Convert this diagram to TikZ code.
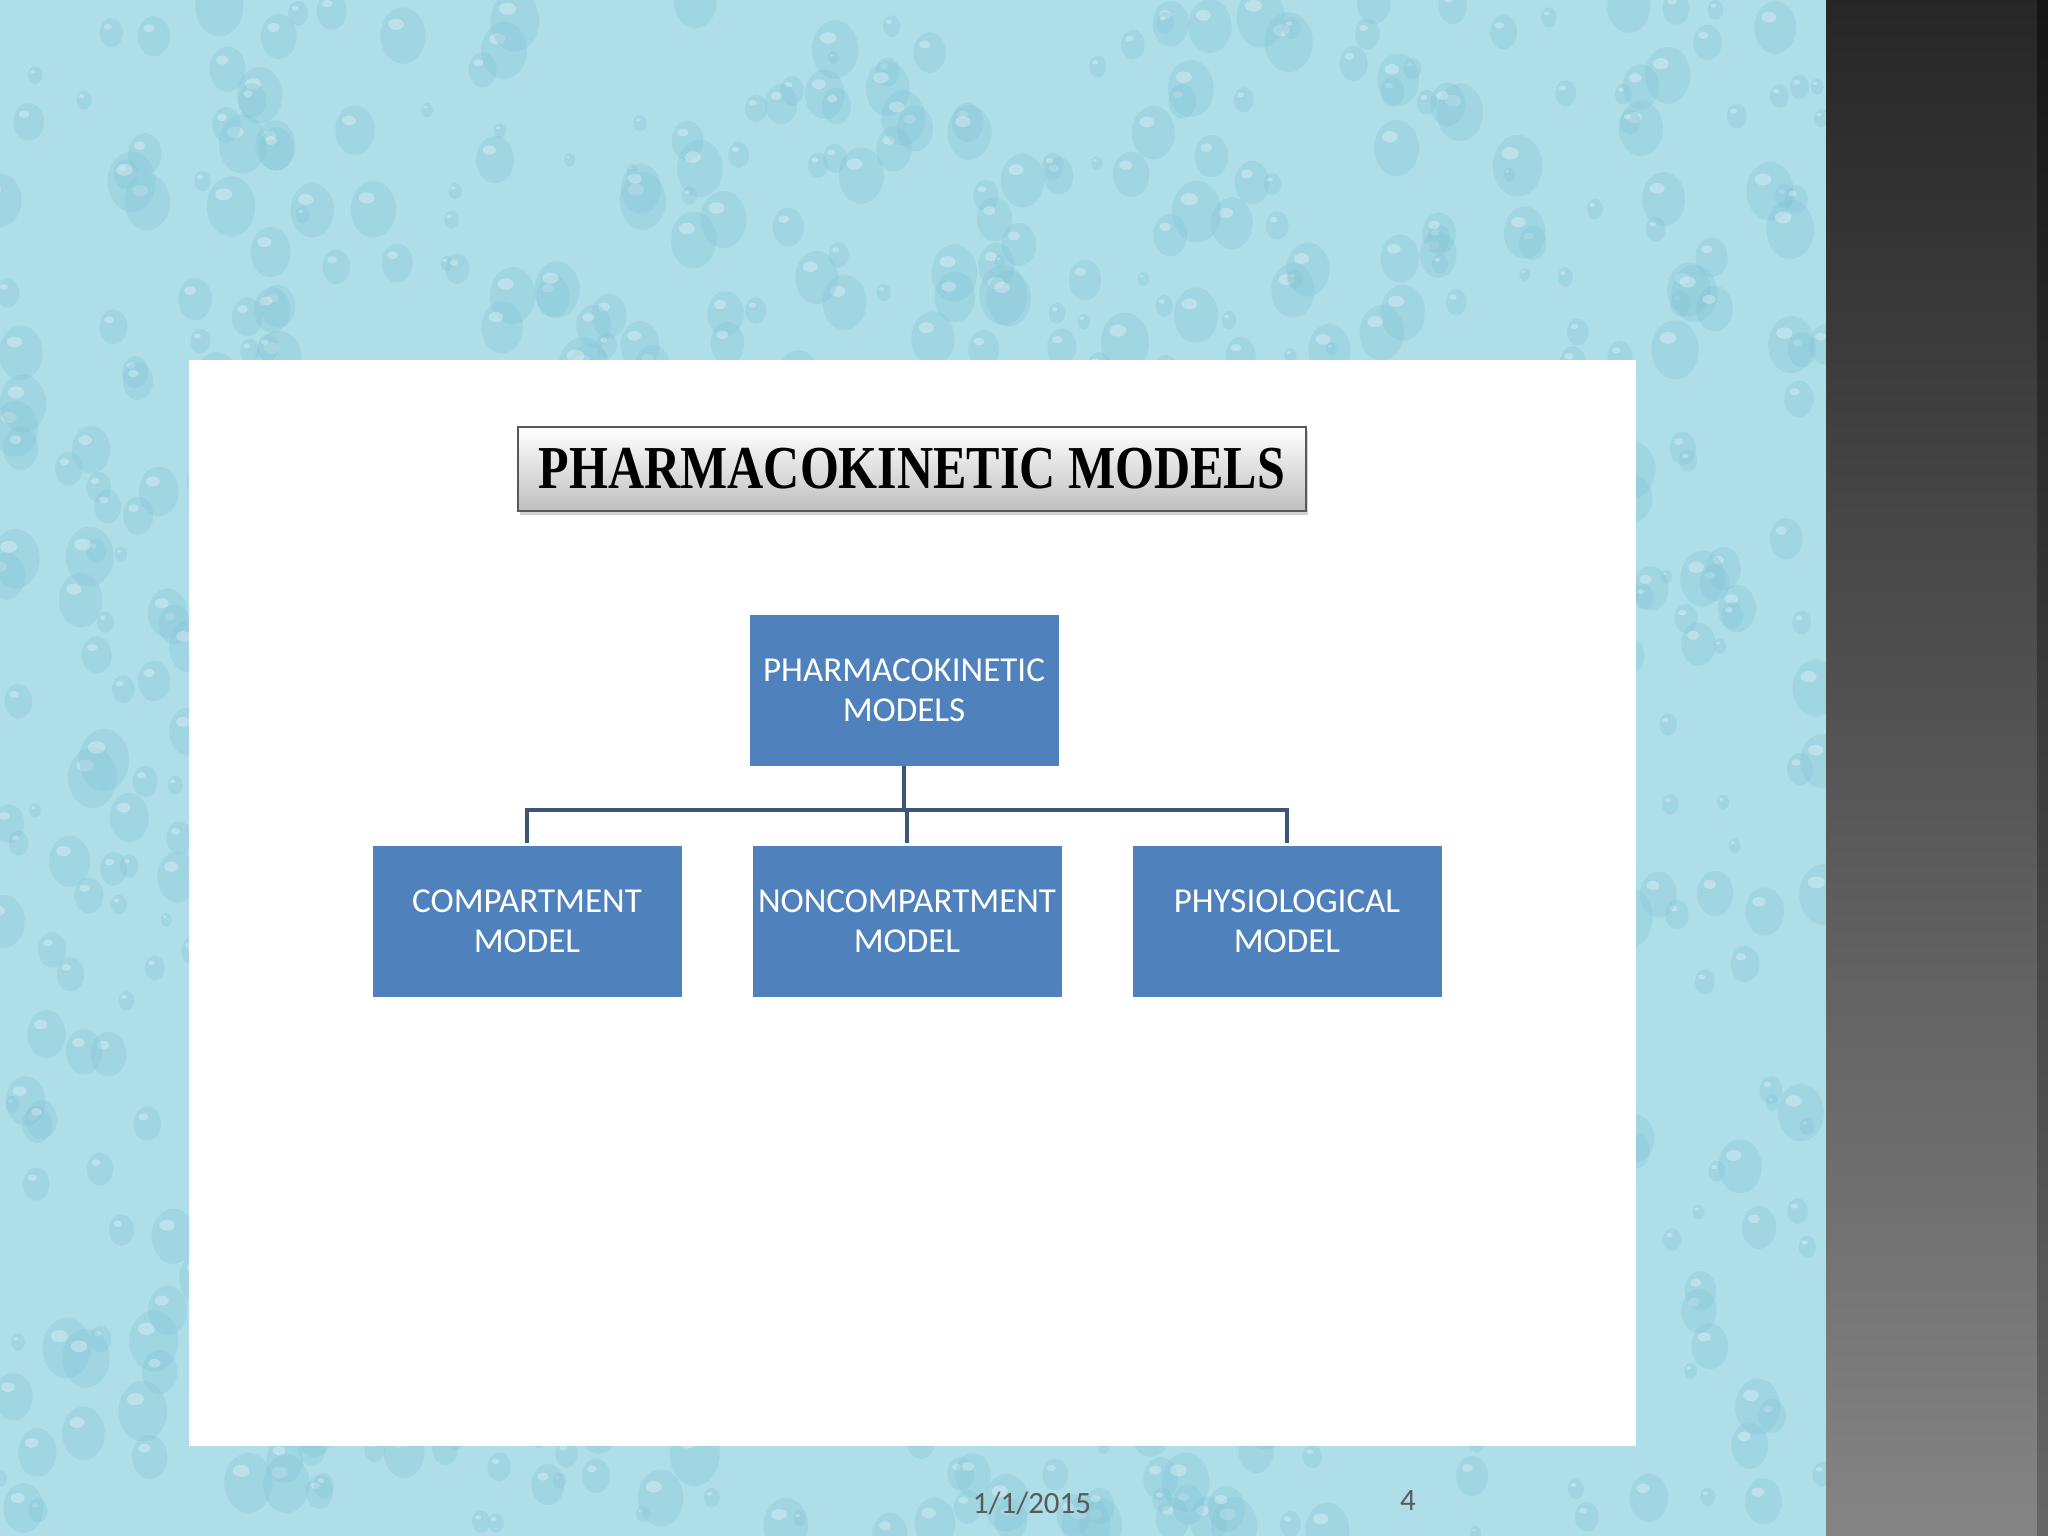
\documentclass[tikz,border=0pt]{standalone}
\usepackage{fontspec}
\setmainfont{Carlito}
\newfontfamily\titlefont[FakeStretch=0.82]{Liberation Serif}
\usepackage{xcolor}
\usetikzlibrary{positioning,shadows}

\definecolor{drops}{HTML}{AEDFE9}
\definecolor{dropsdark}{HTML}{86C4D6}
\definecolor{pkblue}{HTML}{4F81BD}
\definecolor{pkline}{HTML}{3E5675}
\definecolor{datetext}{HTML}{5A5A5A}

\begin{document}
\begin{tikzpicture}[x=1pt, y=-1pt,
  model/.style={fill=pkblue, text=white, align=center, inner sep=0pt,
    minimum width=309pt, minimum height=151pt, font=\fontsize{35}{40}\selectfont},
  headbox/.style={draw=black!65, line width=2pt, top color=white, bottom color=black!25,
    minimum width=788pt, minimum height=84pt, inner sep=0pt,
    drop shadow={shadow xshift=2pt, shadow yshift=-4pt, opacity=.35},
    font=\titlefont\bfseries\fontsize{61}{64}\selectfont},
  link/.style={draw=pkline, line width=4pt},
  foot/.style={text=datetext, font=\fontsize{31}{33}\selectfont, inner sep=0pt}]
\useasboundingbox (0,0) rectangle (2048,1536);
% background
\fill[drops] (0,0) rectangle (1826,1536);
\pgfmathsetseed{7}
\foreach \i in {1,...,900} {
  \pgfmathsetmacro{\px}{rnd*1826}
  \pgfmathsetmacro{\py}{rnd*1536}
  \pgfmathsetmacro{\rr}{5+rnd*20}
  \fill[dropsdark, opacity=.35] (\px,\py) ellipse ({\rr pt} and {1.25*\rr pt});
  \fill[white, opacity=.3] (\px-0.3*\rr,\py-0.5*\rr) ellipse ({0.35*\rr pt} and {0.25*\rr pt});
}
\shade[top color=black!85, bottom color=black!48] (1826,0) rectangle (2048,1536);
\shade[top color=black!92, bottom color=black!60] (2037,0) rectangle (2048,1536);
\fill[white] (189,360) rectangle (1636,1446);

% title
\node[headbox] (head) at (912,469) {PHARMACOKINETIC MODELS};

% tree
\node[model] (pk) at (904,690) {PHARMACOKINETIC\\MODELS};
\node[model] (comp) at (527,921) {COMPARTMENT\\MODEL};
\node[model] (noncomp) at (907,921) {NONCOMPARTMENT\\MODEL};
\node[model] (physio) at (1287,921) {PHYSIOLOGICAL\\MODEL};

\coordinate (bus) at (904,810);
\draw[link] (pk.south) -- (bus);
\draw[link] ([yshift=2pt]comp.north) -- (comp.north |- bus) -- (physio.north |- bus) -- ([yshift=2pt]physio.north);
\draw[link] (noncomp.north |- bus) -- ([yshift=2pt]noncomp.north);

% footer
\node[foot] (date) at (1032,1503) {1/1/2015};
\node[foot] (page) at (1408,1501) {4};
\end{tikzpicture}
\end{document}
